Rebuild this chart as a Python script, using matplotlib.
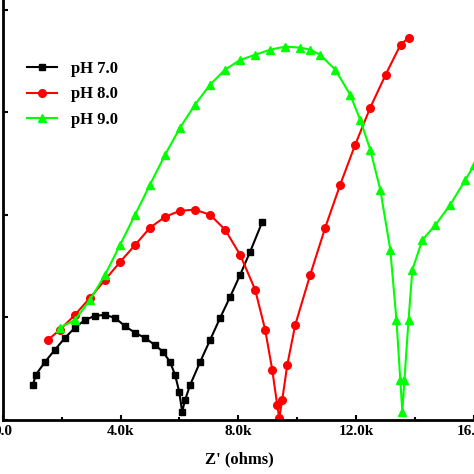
import matplotlib
matplotlib.use('Agg')
import matplotlib.pyplot as plt
from matplotlib.ticker import FuncFormatter, MultipleLocator

# Z' (k ohms), -Z'' (k ohms)
x7 = [1.02, 1.12, 1.43, 1.77, 2.11, 2.45, 2.79, 3.13, 3.47, 3.81, 4.15, 4.49, 4.83, 5.17,
      5.44, 5.68, 5.85, 5.99, 6.09, 6.19, 6.36, 6.70, 7.04, 7.38, 7.72, 8.06, 8.40, 8.81]
y7 = [0.68, 0.88, 1.13, 1.37, 1.60, 1.80, 1.95, 2.03, 2.05, 1.99, 1.83, 1.70, 1.60, 1.46,
      1.33, 1.13, 0.88, 0.55, 0.16, 0.39, 0.68, 1.13, 1.56, 1.99, 2.40, 2.83, 3.28, 3.86]

x8 = [1.53, 1.94, 2.45, 2.96, 3.47, 3.98, 4.49, 5.00, 5.51, 6.02, 6.53, 7.04, 7.55, 8.06,
      8.57, 8.91, 9.15, 9.32, 9.39, 9.49, 9.66, 9.93, 10.44, 10.95, 11.46, 11.97, 12.48,
      13.00, 13.51, 13.78]
y8 = [1.56, 1.76, 2.05, 2.38, 2.73, 3.08, 3.41, 3.75, 3.96, 4.08, 4.10, 4.00, 3.71, 3.22,
      2.54, 1.76, 0.98, 0.29, 0.04, 0.39, 1.07, 1.85, 2.83, 3.75, 4.59, 5.37, 6.09,
      6.73, 7.32, 7.45]

x9 = [1.94, 2.45, 2.96, 3.47, 3.98, 4.49, 5.00, 5.51, 6.02, 6.53, 7.04, 7.55, 8.06, 8.57,
      9.08, 9.59, 10.10, 10.44, 10.78, 11.29, 11.80, 12.14, 12.48, 12.82, 13.16, 13.37,
      13.50, 13.57, 13.64, 13.78, 13.91, 14.25, 14.69, 15.20, 15.71, 16.02]
y9 = [1.80, 1.95, 2.34, 2.83, 3.41, 4.00, 4.59, 5.17, 5.70, 6.15, 6.54, 6.83, 7.02, 7.12,
      7.22, 7.28, 7.26, 7.22, 7.12, 6.83, 6.34, 5.85, 5.27, 4.49, 3.32, 1.95,
      0.78, 0.16, 0.78, 1.95, 2.93, 3.51, 3.80, 4.20, 4.68, 4.98]

plt.rcParams['font.family'] = 'Liberation Serif'
plt.rcParams['font.weight'] = 'bold'

fig = plt.figure(figsize=(4.74, 4.74), dpi=100)
ax = fig.add_axes([0.006, 0.114, 1.0, 0.95])

ax.plot(x7, y7, '-s', color='black', ms=5, lw=1.5, label='pH 7.0')
ax.plot(x8, y8, '-o', color='red', ms=5.5, lw=1.5, label='pH 8.0')
ax.plot(x9, y9, '-^', color='#00ff00', ms=5.5, lw=1.5, label='pH 9.0')

ax.set_xlim(0, 16.1)
ax.set_ylim(0, 8.78)
ax.xaxis.set_major_locator(MultipleLocator(4))
ax.xaxis.set_minor_locator(MultipleLocator(2))
ax.xaxis.set_major_formatter(FuncFormatter(lambda v, p: '0.0' if v == 0 else f'{v:.1f}k'))
ax.yaxis.set_major_locator(MultipleLocator(2))
ax.set_yticklabels([])
ax.tick_params(direction='in', labelsize=11, width=1.5)
ax.tick_params(which='minor', direction='in', width=1.5)
for s in ax.spines.values():
    s.set_linewidth(2)
ax.set_xlabel("Z' (ohms)", fontsize=12, fontweight='bold', labelpad=10)

ax.legend(loc='upper left', bbox_to_anchor=(0.02, 0.83), frameon=False,
          prop={'size': 12, 'weight': 'bold'}, handlelength=1.8, labelspacing=0.55)

fig.savefig('out.png', dpi=100)
